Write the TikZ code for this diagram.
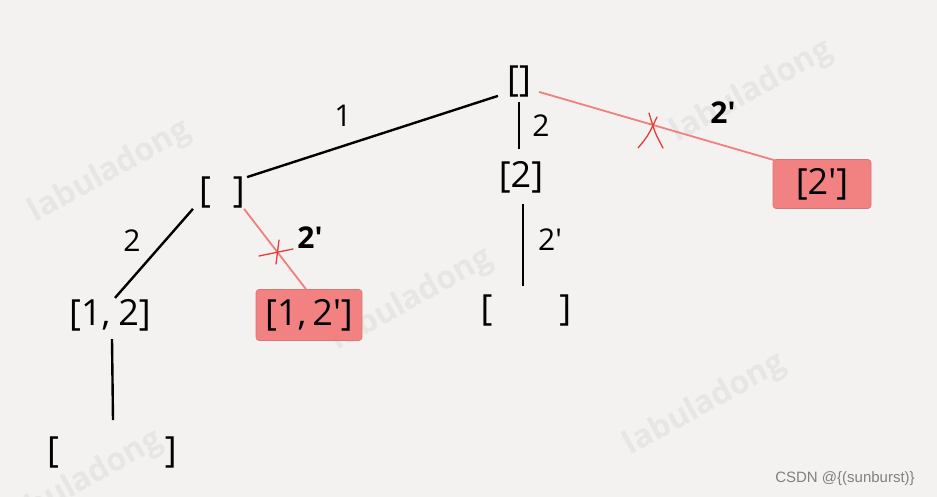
\documentclass[tikz,border=0pt]{standalone}
\usepackage{fontspec}
\setmainfont{Open Sans}
\newfontfamily\csdnfont{Liberation Sans}
\usetikzlibrary{calc}
\definecolor{bgc}{RGB}{243,242,240}
\definecolor{redfill}{RGB}{242,130,130}
\definecolor{redline}{RGB}{238,128,128}
\definecolor{redx}{RGB}{232,60,60}
\definecolor{wm}{RGB}{231,230,228}
\newcommand{\pr}{\textquotesingle}
\tikzset{
  st/.style={font=\fontsize{36}{36}\selectfont, inner sep=3pt},
  redbox/.style={st, fill=redfill, draw=redfill!90!black, line width=0.6pt, rounded corners=3pt},
  blk/.style={line width=2.4pt, black},
  rl/.style={line width=1.8pt, redline},
  xm/.style={line width=1.3pt, redx, line cap=round},
  lab/.style={font=\fontsize{30}{30}\selectfont},
  blab/.style={font=\fontsize{30}{30}\selectfont\bfseries},
  wmk/.style={font=\fontsize{32}{32}\selectfont\bfseries, text=wm, rotate=29},
}
\begin{document}
\begin{tikzpicture}[x=1pt,y=-1pt]
\fill[bgc] (0,0) rectangle (937,497);
\useasboundingbox (0,0) rectangle (937,497);
% watermarks
\node[wmk] (w1) at (110,172) {labuladong};
\node[wmk] (w2) at (752,92) {labuladong};
\node[wmk] (w3) at (412,300) {labuladong};
\node[wmk] (w4) at (705,405) {labuladong};
\node[wmk] (w5) at (82,482) {labuladong};
% nodes
\node[st] (root) at (519,82) {[]};
\node[st] (n1) at (222,192) {[\hspace{22pt}]};
\node[st] (n2) at (521,177) {[2]};
\node[redbox, minimum width=98pt, minimum height=49pt] (n3) at (822,184) {[2\pr]};
\node[st] (n4) at (110,315) {[1,\hspace{8pt}2]};
\node[redbox, minimum width=106pt, minimum height=51pt] (n5) at (309,315) {[1,\hspace{6pt}2\pr]};
\node[st] (n6) at (526,310) {[\hspace{67pt}]};
\node[st] (n7) at (112,452) {[\hspace{106pt}]};
% edges
\draw[blk] ([xshift=-6pt,yshift=5pt]root.south west) -- ([xshift=-1pt,yshift=-4pt]n1.north east);
\draw[blk] ([yshift=-1pt]root.south) -- ([yshift=9pt]root.south |- n2.north);
\draw[rl] ([xshift=5pt,yshift=9pt]root.south east) -- ([xshift=5pt,yshift=-2pt]n3.north west);
\draw[blk] ([xshift=-3pt,yshift=2pt]n1.south west) -- ([xshift=5pt,yshift=-2pt]n4.north);
\draw[rl] ([xshift=-4pt,yshift=2pt]n1.south east) -- ([xshift=-3pt]n5.north);
\draw[blk] ([xshift=2pt,yshift=-8pt]n2.south) -- ([xshift=2pt,yshift=5pt]n2.south |- n6.north);
\draw[blk] ([xshift=2pt,yshift=-5pt]n4.south) -- ([xshift=3pt,yshift=13pt]n4.south |- n7.north);
% cross marks
\coordinate (x1) at (653,131);
\draw[xm] ($(x1)+(-15,17)$) .. controls ($(x1)+(-5,5)$) .. ($(x1)+(4,-14)$);
\draw[xm] ($(x1)+(-4,-18)$) .. controls ($(x1)+(2,2)$) .. ($(x1)+(10,17)$);
\coordinate (x2) at (277,253);
\draw[xm] ($(x2)+(-18,3)$) -- ($(x2)+(16,-4)$);
\draw[xm] ($(x2)+(2,-13)$) -- ($(x2)+(-1,11)$);
% labels
\node[lab] (l1) at (343,116) {1};
\node[lab] (l2) at (541,126) {2};
\node[blab] (l3) at (723,113) {2\pr};
\node[blab] (l4) at (310,238) {2\pr};
\node[lab] (l5) at (132,241) {2};
\node[lab] (l6) at (550,240) {2\pr};
\node[font=\csdnfont\fontsize{15}{15}\selectfont, text=black!50] (c) at (845,479) {CSDN @\{(sunburst)\}};
\end{tikzpicture}
\end{document}
